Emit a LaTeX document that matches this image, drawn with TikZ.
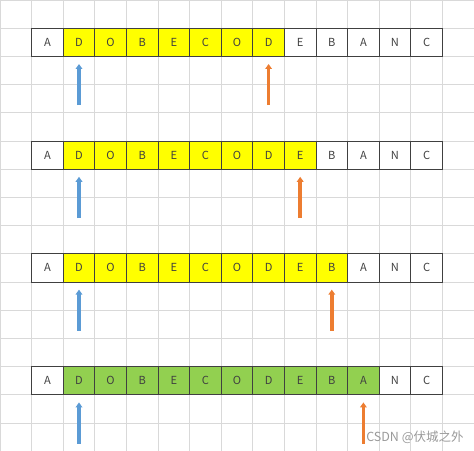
\documentclass[tikz,border=0pt]{standalone}
\usepackage{fontspec}
\setmainfont{Noto Sans CJK SC}
\usetikzlibrary{arrows.meta,positioning}
\definecolor{gridgray}{HTML}{D9D9D9}
\definecolor{cellline}{HTML}{404040}
\definecolor{textgray}{HTML}{404040}
\definecolor{hityellow}{HTML}{FFFF00}
\definecolor{okgreen}{HTML}{92D050}
\definecolor{lblue}{HTML}{5B9BD5}
\definecolor{rorange}{HTML}{ED7D31}

\begin{document}
\begin{tikzpicture}[x=0.8cm,y=0.714cm]
		\tikzstyle{cell} = [draw=cellline,line width=0.7pt,minimum width=0.8cm,minimum height=0.714cm,inner sep=0pt,text=textgray,font=\fontsize{8}{8}\selectfont]
		\tikzstyle{hit} = [cell,fill=hityellow]
		\tikzstyle{ok} = [cell,fill=okgreen]
		\tikzstyle{leftptr} = [draw=lblue,line width=2.6pt,-{Triangle[width=4.8pt,length=3.6pt]},shorten >=1.8mm]
		\tikzstyle{rightptr} = [draw=rorange,line width=2.6pt,-{Triangle[width=4.8pt,length=3.6pt]},shorten >=1.8mm]
		\useasboundingbox (0,0) rectangle (15,-15.96);
		% Sheet
		\clip (0,0) rectangle (15,-15.96);
		\draw[gridgray,line width=0.6pt,xstep=0.8cm,ystep=0.714cm] (0,0) grid (15,-16);
		% Window 1
		\node[cell] (s1_0) at (1.5,-1.5) {A};
		\node[hit] (s1_1) at (2.5,-1.5) {D};
		\node[hit] (s1_2) at (3.5,-1.5) {O};
		\node[hit] (s1_3) at (4.5,-1.5) {B};
		\node[hit] (s1_4) at (5.5,-1.5) {E};
		\node[hit] (s1_5) at (6.5,-1.5) {C};
		\node[hit] (s1_6) at (7.5,-1.5) {O};
		\node[hit] (s1_7) at (8.5,-1.5) {D};
		\node[cell] (s1_8) at (9.5,-1.5) {E};
		\node[cell] (s1_9) at (10.5,-1.5) {B};
		\node[cell] (s1_10) at (11.5,-1.5) {A};
		\node[cell] (s1_11) at (12.5,-1.5) {N};
		\node[cell] (s1_12) at (13.5,-1.5) {C};
		\coordinate (l1) at (2.5,-3.73);
		\coordinate (r1) at (8.5,-3.73);
		\draw[leftptr] (l1) -- (s1_1);
		\draw[rightptr] (r1) -- (s1_7);
		% Window 2
		\node[cell] (s2_0) at (1.5,-5.5) {A};
		\node[hit] (s2_1) at (2.5,-5.5) {D};
		\node[hit] (s2_2) at (3.5,-5.5) {O};
		\node[hit] (s2_3) at (4.5,-5.5) {B};
		\node[hit] (s2_4) at (5.5,-5.5) {E};
		\node[hit] (s2_5) at (6.5,-5.5) {C};
		\node[hit] (s2_6) at (7.5,-5.5) {O};
		\node[hit] (s2_7) at (8.5,-5.5) {D};
		\node[hit] (s2_8) at (9.5,-5.5) {E};
		\node[cell] (s2_9) at (10.5,-5.5) {B};
		\node[cell] (s2_10) at (11.5,-5.5) {A};
		\node[cell] (s2_11) at (12.5,-5.5) {N};
		\node[cell] (s2_12) at (13.5,-5.5) {C};
		\coordinate (l2) at (2.5,-7.73);
		\coordinate (r2) at (9.5,-7.73);
		\draw[leftptr] (l2) -- (s2_1);
		\draw[rightptr] (r2) -- (s2_8);
		% Window 3
		\node[cell] (s3_0) at (1.5,-9.5) {A};
		\node[hit] (s3_1) at (2.5,-9.5) {D};
		\node[hit] (s3_2) at (3.5,-9.5) {O};
		\node[hit] (s3_3) at (4.5,-9.5) {B};
		\node[hit] (s3_4) at (5.5,-9.5) {E};
		\node[hit] (s3_5) at (6.5,-9.5) {C};
		\node[hit] (s3_6) at (7.5,-9.5) {O};
		\node[hit] (s3_7) at (8.5,-9.5) {D};
		\node[hit] (s3_8) at (9.5,-9.5) {E};
		\node[hit] (s3_9) at (10.5,-9.5) {B};
		\node[cell] (s3_10) at (11.5,-9.5) {A};
		\node[cell] (s3_11) at (12.5,-9.5) {N};
		\node[cell] (s3_12) at (13.5,-9.5) {C};
		\coordinate (l3) at (2.5,-11.73);
		\coordinate (r3) at (10.5,-11.73);
		\draw[leftptr] (l3) -- (s3_1);
		\draw[rightptr] (r3) -- (s3_9);
		% Window 4
		\node[cell] (s4_0) at (1.5,-13.5) {A};
		\node[ok] (s4_1) at (2.5,-13.5) {D};
		\node[ok] (s4_2) at (3.5,-13.5) {O};
		\node[ok] (s4_3) at (4.5,-13.5) {B};
		\node[ok] (s4_4) at (5.5,-13.5) {E};
		\node[ok] (s4_5) at (6.5,-13.5) {C};
		\node[ok] (s4_6) at (7.5,-13.5) {O};
		\node[ok] (s4_7) at (8.5,-13.5) {D};
		\node[ok] (s4_8) at (9.5,-13.5) {E};
		\node[ok] (s4_9) at (10.5,-13.5) {B};
		\node[ok] (s4_10) at (11.5,-13.5) {A};
		\node[cell] (s4_11) at (12.5,-13.5) {N};
		\node[cell] (s4_12) at (13.5,-13.5) {C};
		\coordinate (l4) at (2.5,-15.73);
		\coordinate (r4) at (11.5,-15.73);
		\draw[leftptr] (l4) -- (s4_1);
		\draw[rightptr] (r4) -- (s4_10);
		% Mark
		\node[text=black!40,font=\fontsize{9}{9}\selectfont,inner sep=0pt] (mark) at (13.13,-15.5) {CSDN @伏城之外};
\end{tikzpicture}
\end{document}
